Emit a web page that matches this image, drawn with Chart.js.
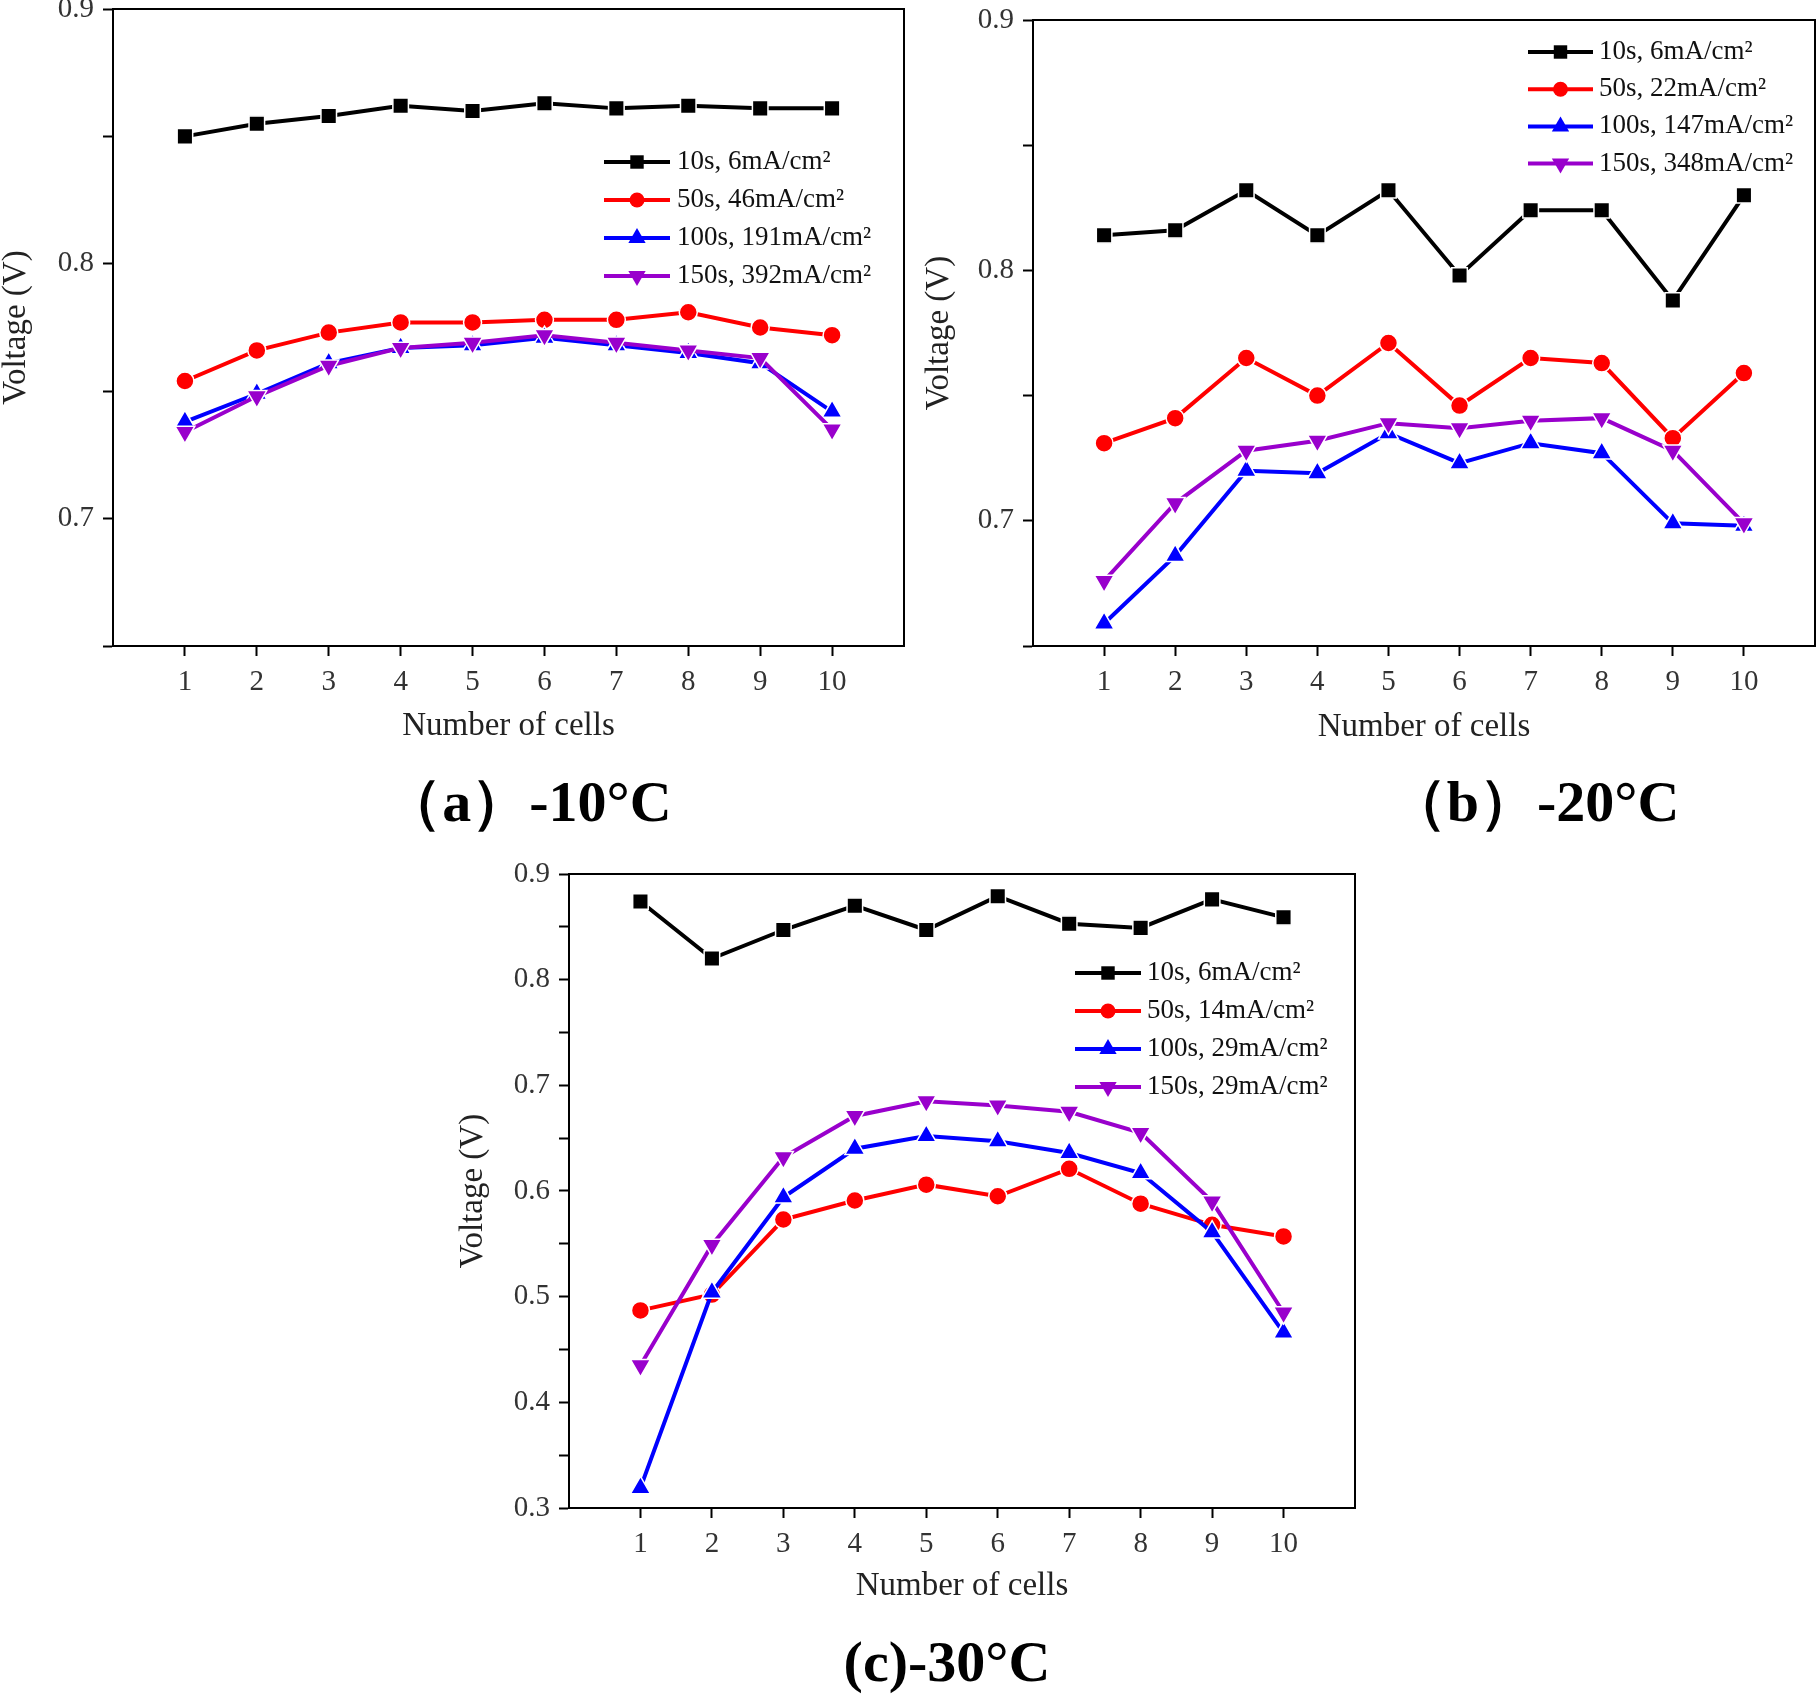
<!DOCTYPE html>
<html>
<head>
<meta charset="utf-8">
<title>Cell voltage at low temperature</title>
<script src="https://cdn.jsdelivr.net/npm/chart.js@4.4.1/dist/chart.umd.min.js"></script>
<style>
    html, body { margin: 0; padding: 0; background: #fff; }
    body { position: relative; width: 1820px; height: 1694px; overflow: hidden; }
    .panel { position: absolute; }
    .caption {
        position: absolute;
        transform: translate(-50%, -50%);
        font-family: "Liberation Serif", "Times New Roman", serif;
        font-weight: bold;
        font-size: 58px;
        white-space: nowrap;
        color: #000;
    }
</style>
</head>
<body>
<div class="panel" id="boxA" style="left:0px;top:0px;width:910px;height:760px"><canvas id="chartA"></canvas></div>
<div class="panel" id="boxB" style="left:910px;top:0px;width:910px;height:760px"><canvas id="chartB"></canvas></div>
<div class="panel" id="boxC" style="left:440px;top:850px;width:940px;height:770px"><canvas id="chartC"></canvas></div>
<div class="caption" style="left:528px;top:802px">（a）-10°C</div>
<div class="caption" style="left:1534px;top:802px">（b）-20°C</div>
<div class="caption" style="left:947px;top:1661px">(c)-30°C</div>

<script>
// ===== Data =====
const cells = [1, 2, 3, 4, 5, 6, 7, 8, 9, 10];

// (a) -10°C
const labelsA = ["10s, 6mA/cm²", "50s, 46mA/cm²", "100s, 191mA/cm²", "150s, 392mA/cm²"];
const s10A  = [0.850, 0.855, 0.858, 0.862, 0.860, 0.863, 0.861, 0.862, 0.861, 0.861];
const s50A  = [0.754, 0.766, 0.773, 0.777, 0.777, 0.778, 0.778, 0.781, 0.775, 0.772];
const s100A = [0.738, 0.749, 0.761, 0.767, 0.768, 0.771, 0.768, 0.765, 0.761, 0.742];
const s150A = [0.734, 0.748, 0.760, 0.767, 0.769, 0.772, 0.769, 0.766, 0.763, 0.735];

// (b) -20°C
const labelsB = ["10s, 6mA/cm²", "50s, 22mA/cm²", "100s, 147mA/cm²", "150s, 348mA/cm²"];
const s10B  = [0.814, 0.816, 0.832, 0.814, 0.832, 0.798, 0.824, 0.824, 0.788, 0.830];
const s50B  = [0.731, 0.741, 0.765, 0.750, 0.771, 0.746, 0.765, 0.763, 0.733, 0.759];
const s100B = [0.659, 0.686, 0.720, 0.719, 0.735, 0.723, 0.731, 0.727, 0.699, 0.698];
const s150B = [0.676, 0.707, 0.728, 0.732, 0.739, 0.737, 0.740, 0.741, 0.728, 0.699];

// (c) -30°C
const labelsC = ["10s, 6mA/cm²", "50s, 14mA/cm²", "100s, 29mA/cm²", "150s, 29mA/cm²"];
const s10C  = [0.874, 0.820, 0.847, 0.870, 0.847, 0.879, 0.853, 0.849, 0.876, 0.859];
const s50C  = [0.487, 0.502, 0.573, 0.591, 0.606, 0.595, 0.621, 0.588, 0.568, 0.557];
const s100C = [0.319, 0.504, 0.594, 0.640, 0.652, 0.647, 0.636, 0.617, 0.561, 0.466];
const s150C = [0.435, 0.549, 0.632, 0.671, 0.685, 0.681, 0.675, 0.655, 0.590, 0.485];

// ===== Styles =====
const seriesStyle = [
    { color: "#000000", pointStyle: "rect", radius: 11, rotation: 0 },
    { color: "#ff0000", pointStyle: "circle", radius: 9, rotation: 0 },
    { color: "#0000ff", pointStyle: "triangle", radius: 11.5, rotation: 0 },
    { color: "#9900cc", pointStyle: "triangle", radius: 11.5, rotation: 180 }
];
const serif = "'Liberation Serif', 'Times New Roman', serif";

// ===== Plugins =====
// box round the plot area (top and right sides included)
const framePlugin = {
    id: "frame",
    beforeDatasetsDraw(chart) {
        const { ctx, chartArea: a } = chart;
        ctx.save();
        ctx.strokeStyle = "#000";
        ctx.lineWidth = 2;
        ctx.strokeRect(a.left, a.top, a.right - a.left, a.bottom - a.top);
        ctx.restore();
    }
};

// legend with line + marker, drawn inside the plot area
const lineLegendPlugin = {
    id: "lineLegend",
    afterDraw(chart, args, opts) {
        const ctx = chart.ctx;
        const a = chart.chartArea;
        ctx.save();
        chart.data.datasets.forEach((ds, i) => {
            const st = seriesStyle[i];
            const x0 = a.left + opts.left;
            const y = a.top + opts.top + i * opts.spacing;
            ctx.strokeStyle = st.color;
            ctx.lineWidth = 4;
            ctx.beginPath();
            ctx.moveTo(x0, y);
            ctx.lineTo(x0 + opts.lineLength, y);
            ctx.stroke();
            ctx.fillStyle = st.color;
            Chart.helpers.drawPoint(ctx, {
                pointStyle: st.pointStyle,
                radius: st.radius - 1.5,
                rotation: st.rotation,
                borderWidth: 0
            }, x0 + opts.lineLength / 2, y);
            ctx.fillStyle = "#111";
            ctx.font = "27px " + serif;
            ctx.textAlign = "left";
            ctx.textBaseline = "middle";
            ctx.fillText(ds.label, x0 + opts.lineLength + opts.gap, y);
        });
        ctx.restore();
    }
};

// ===== Fonctions =====
function majorLabel(v) {
    const t = Math.round(v * 100);
    return t % 10 === 0 ? (t / 100).toFixed(1) : "";
}

function makeDatasets(labels, series) {
    return series.map((values, i) => {
        const st = seriesStyle[i];
        return {
            label: labels[i],
            data: cells.map((c, k) => ({ x: c, y: values[k] })),
            borderColor: st.color,
            backgroundColor: st.color,
            borderWidth: 4,
            pointStyle: st.pointStyle,
            pointRotation: st.rotation,
            pointRadius: st.radius,
            pointBackgroundColor: st.color,
            pointBorderColor: "#ffffff",
            pointBorderWidth: 1.5,
            tension: 0,
            clip: false,
            order: 4 - i
        };
    });
}

function makeChart(canvasId, p) {
    const box = p.box, area = p.area;
    return new Chart(document.getElementById(canvasId), {
        type: "line",
        data: { datasets: makeDatasets(p.labels, p.series) },
        plugins: [framePlugin, lineLegendPlugin],
        options: {
            responsive: true,
            maintainAspectRatio: false,
            animation: false,
            events: [],
            layout: {
                autoPadding: false,
                padding: {
                    left: 0,
                    top: area.t - box.y,
                    right: box.x + box.w - area.r,
                    bottom: 0
                }
            },
            plugins: {
                legend: { display: false },
                tooltip: { enabled: false },
                lineLegend: p.legend
            },
            scales: {
                x: {
                    type: "linear",
                    min: 0,
                    max: 11,
                    afterBuildTicks: s => { s.ticks = s.ticks.filter(t => t.value >= 1 && t.value <= 10); },
                    afterFit: s => { s.height = box.y + box.h - area.b; s.paddingLeft = 0; s.paddingRight = 0; },
                    border: { display: true, color: "#000", width: 2 },
                    grid: { drawOnChartArea: false, drawTicks: true, tickLength: 10, tickWidth: 2, tickColor: "#000" },
                    ticks: {
                        stepSize: 1,
                        padding: 9,
                        color: "#333",
                        font: { family: serif, size: 29 },
                        callback: v => String(v)
                    },
                    title: {
                        display: true,
                        text: "Number of cells",
                        color: "#222",
                        font: { family: serif, size: 33, lineHeight: 1 },
                        padding: { top: 0, bottom: p.xTitlePad }
                    }
                },
                y: {
                    type: "linear",
                    min: p.yMin,
                    max: p.yMax,
                    afterFit: s => { s.width = area.l - box.x; s.paddingTop = 0; s.paddingBottom = 0; },
                    border: { display: true, color: "#000", width: 2 },
                    grid: { drawOnChartArea: false, drawTicks: true, tickLength: 10, tickWidth: 2, tickColor: "#000" },
                    ticks: {
                        stepSize: 0.05,
                        autoSkip: false,
                        padding: 9,
                        color: "#333",
                        font: { family: serif, size: 29 },
                        callback: majorLabel
                    },
                    title: {
                        display: true,
                        text: "Voltage (V)",
                        color: "#222",
                        font: { family: serif, size: 33, lineHeight: 1 },
                        padding: { top: p.yTitlePad, bottom: 0 }
                    }
                }
            }
        }
    });
}

// ===== Charts =====
makeChart("chartA", {
    box: { x: 0, y: 0, w: 910, h: 760 },
    area: { l: 113, t: 9, r: 904, b: 646 },
    yMin: 0.65, yMax: 0.9,
    labels: labelsA,
    series: [s10A, s50A, s100A, s150A],
    legend: { left: 491, top: 153, spacing: 38, lineLength: 66, gap: 7 },
    xTitlePad: 17,
    yTitlePad: 0
});

makeChart("chartB", {
    box: { x: 910, y: 0, w: 910, h: 760 },
    area: { l: 1033, t: 20, r: 1815, b: 646 },
    yMin: 0.65, yMax: 0.9,
    labels: labelsB,
    series: [s10B, s50B, s100B, s150B],
    legend: { left: 495, top: 32, spacing: 37.2, lineLength: 65, gap: 6 },
    xTitlePad: 16,
    yTitlePad: 13
});

makeChart("chartC", {
    box: { x: 440, y: 850, w: 940, h: 770 },
    area: { l: 569, t: 874, r: 1355, b: 1508 },
    yMin: 0.3, yMax: 0.9,
    labels: labelsC,
    series: [s10C, s50C, s100C, s150C],
    legend: { left: 506, top: 99, spacing: 38, lineLength: 66, gap: 6 },
    xTitlePad: 17,
    yTitlePad: 17
});
</script>
</body>
</html>
